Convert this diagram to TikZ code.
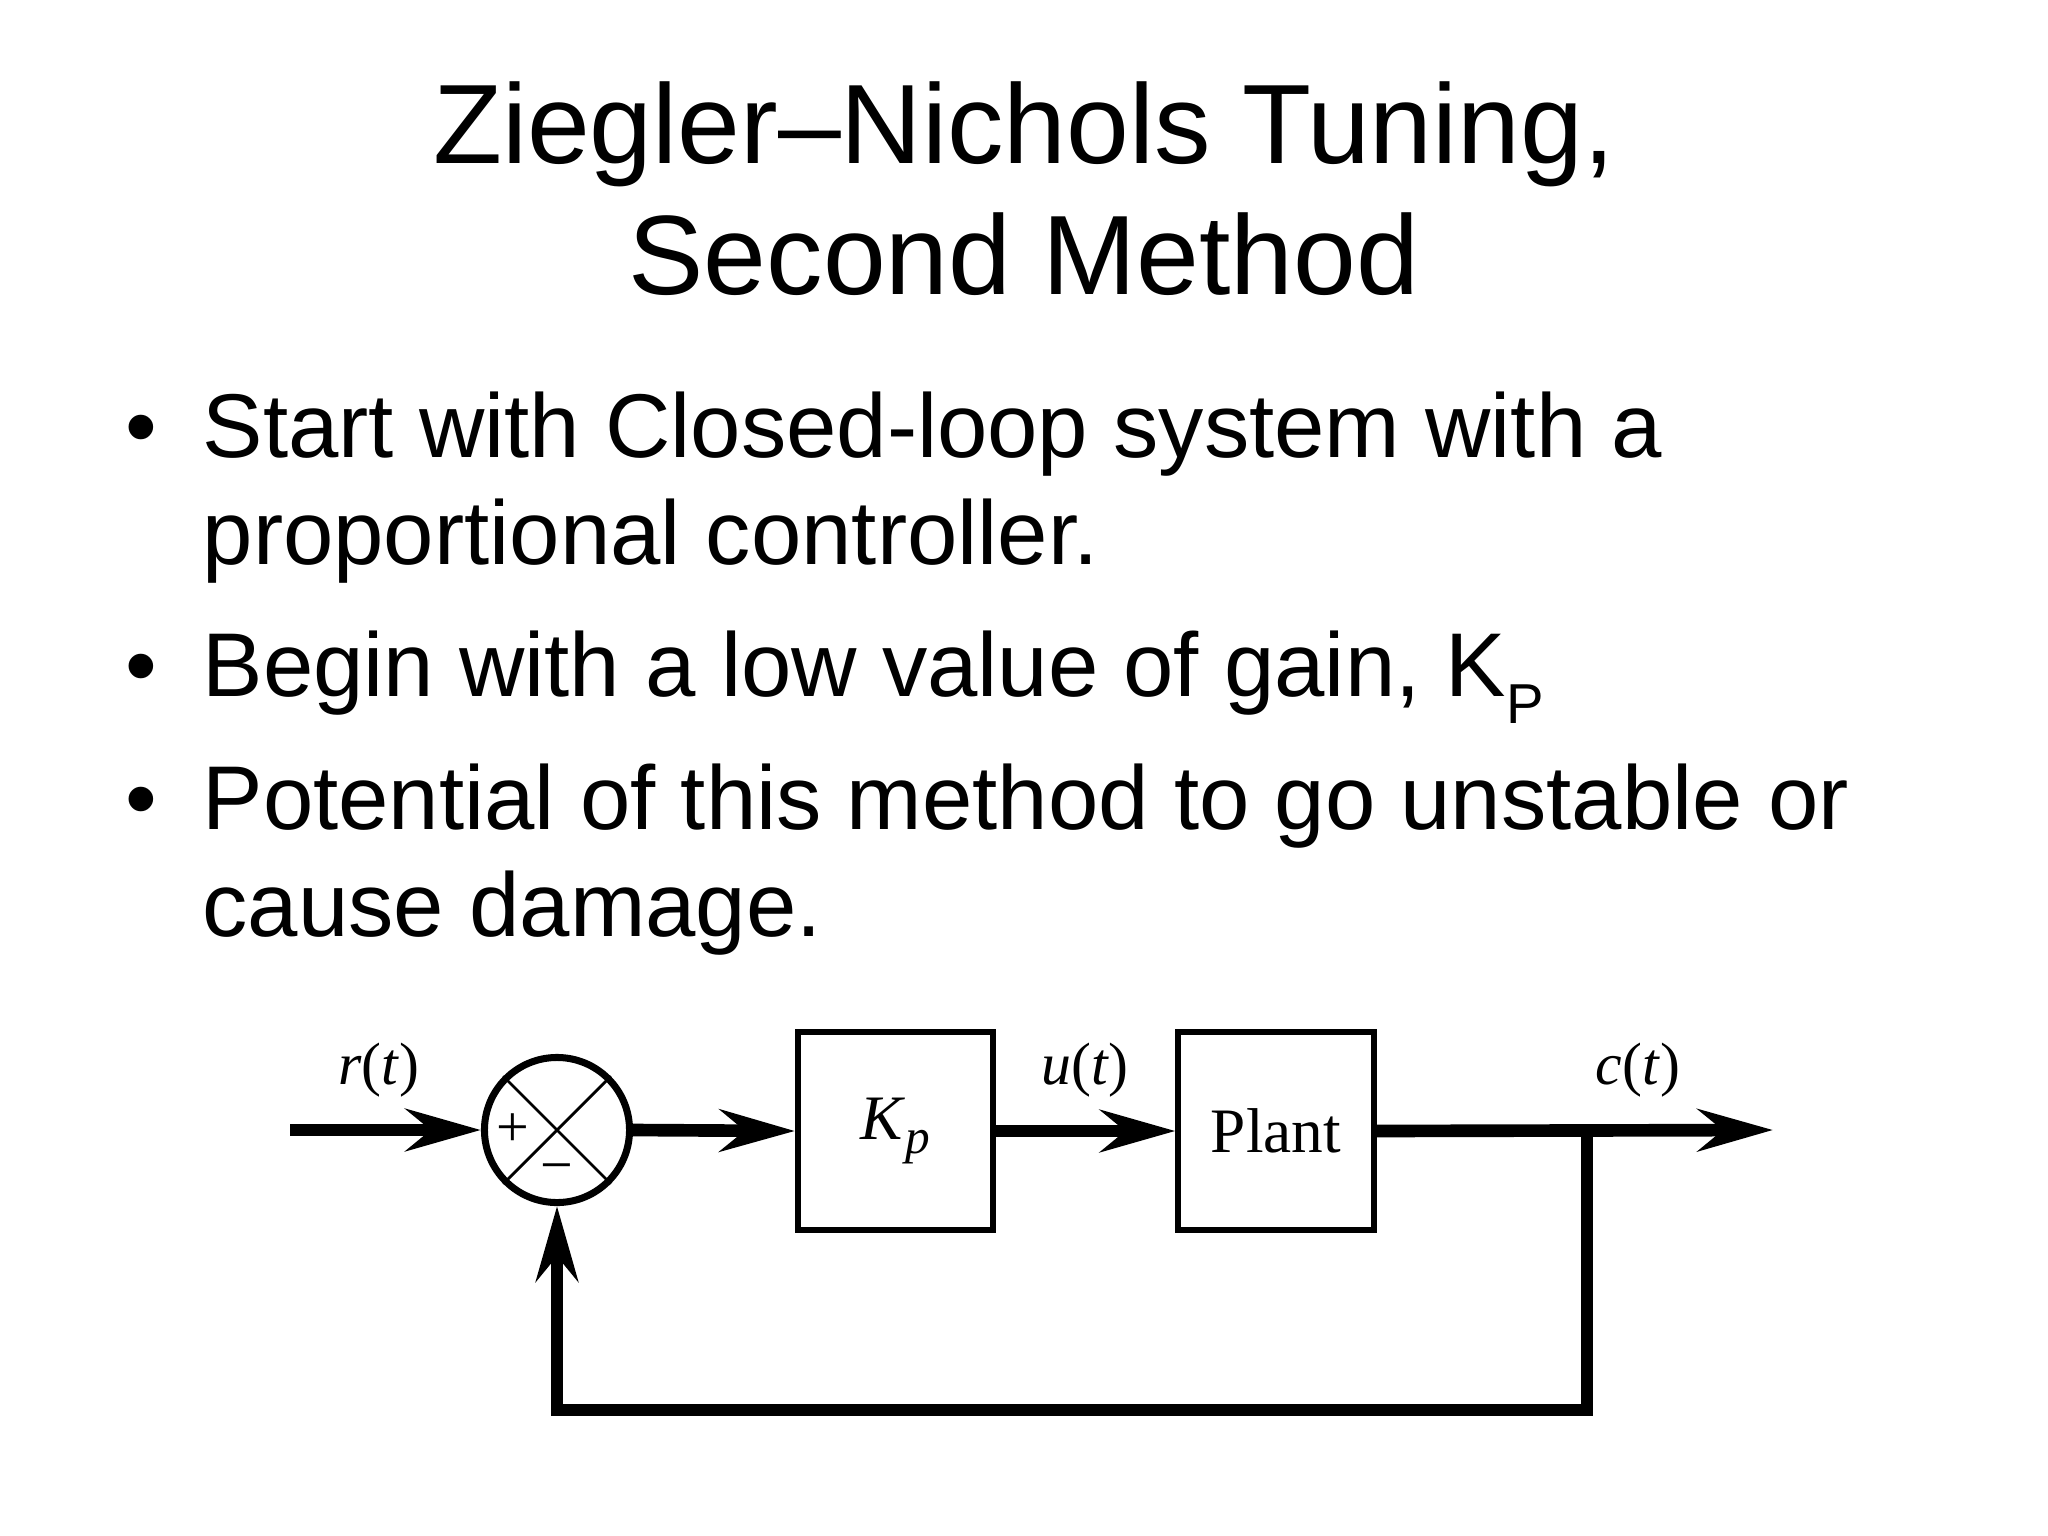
\documentclass[tikz,border=0pt]{standalone}
\usepackage{fontspec}
\setmainfont{Liberation Sans}
\newfontfamily\blockfont{Liberation Serif}
\usetikzlibrary{arrows.meta,positioning}

\tikzset{
  block/.style={draw, line width=1.7pt, minimum width=1.95cm, minimum height=1.98cm,
    font=\blockfont\fontsize{18}{18}\selectfont},
  sumjunction/.style={draw, circle, line width=2pt, minimum size=1.45cm, inner sep=0pt},
  signal/.style={line width=3.6pt, -{Stealth[length=0.75cm, width=0.42cm, inset=0.25cm]}},
  siglabel/.style={font=\blockfont\fontsize{17}{17}\selectfont},
  signlabel/.style={font=\blockfont\fontsize{16.5}{16.5}\selectfont, inner sep=0pt},
  titleline/.style={anchor=base, font=\fontsize{32.1}{38}\selectfont, inner sep=0pt},
  bulletline/.style={anchor=base west, font=\fontsize{25.75}{30}\selectfont, inner sep=0pt},
  bulletdot/.style={anchor=base, font=\fontsize{25.75}{30}\selectfont, inner sep=0pt},
}

\begin{document}
\begin{tikzpicture}[x=0.01cm, y=-0.01cm]
\fill[white] (0,0) rectangle (2048,1536);
\useasboundingbox (0,0) rectangle (2048,1536);

% title
\node[titleline] (title1) at (1024,163) {Ziegler–Nichols Tuning,};
\node[titleline] (title2) at (1024,294) {Second Method};

% bullets
\node[bulletdot] (dot1) at (141,457) {•};
\node[bulletline] (line1) at (202,457) {Start with Closed-loop system with a};
\node[bulletline] (line2) at (202,564) {proportional controller.};
\node[bulletdot] (dot2) at (141,696) {•};
\node[bulletline] (line3) at (202,696) {Begin with a low value of gain, K\raisebox{-0.3em}{\fontsize{16}{16}\selectfont P}};
\node[bulletdot] (dot3) at (141,829) {•};
\node[bulletline] (line4) at (202,829) {Potential of this method to go unstable or};
\node[bulletline] (line5) at (202,936) {cause damage.};

% block diagram
\coordinate (in) at (290,1130);
\node[sumjunction] (sum) at (557,1130) {};
\node[block] (kp) at (895.5,1131) {\textit{K}\raisebox{-0.5ex}{\fontsize{14}{14}\selectfont\textit{p}}};
\node[block] (plant) at (1276,1131) {Plant};
\coordinate (branch) at (1587,1130);
\coordinate (out) at (1773,1130);

\draw[line width=0.8pt] (sum.north west) -- (sum.south east);
\draw[line width=0.8pt] (sum.north east) -- (sum.south west);
\node[signlabel] (plus) at (513,1130) {+};
\node[signlabel] (minus) at (557,1174) {−};

\draw[signal] (in) -- (sum.west);
\draw[signal] (sum.east) -- (kp.west);
\draw[signal] (kp.east) -- (plant.west);
\draw[signal] (plant.east) -- (out);
\draw[signal] (branch) -- ++(0,280) -| (sum.south);

\node[siglabel] (rlabel) at (379,1070) {\textit{r}(\textit{t})};
\node[siglabel] (ulabel) at (1085,1070) {\textit{u}(\textit{t})};
\node[siglabel] (clabel) at (1638,1070) {\textit{c}(\textit{t})};
\end{tikzpicture}
\end{document}
